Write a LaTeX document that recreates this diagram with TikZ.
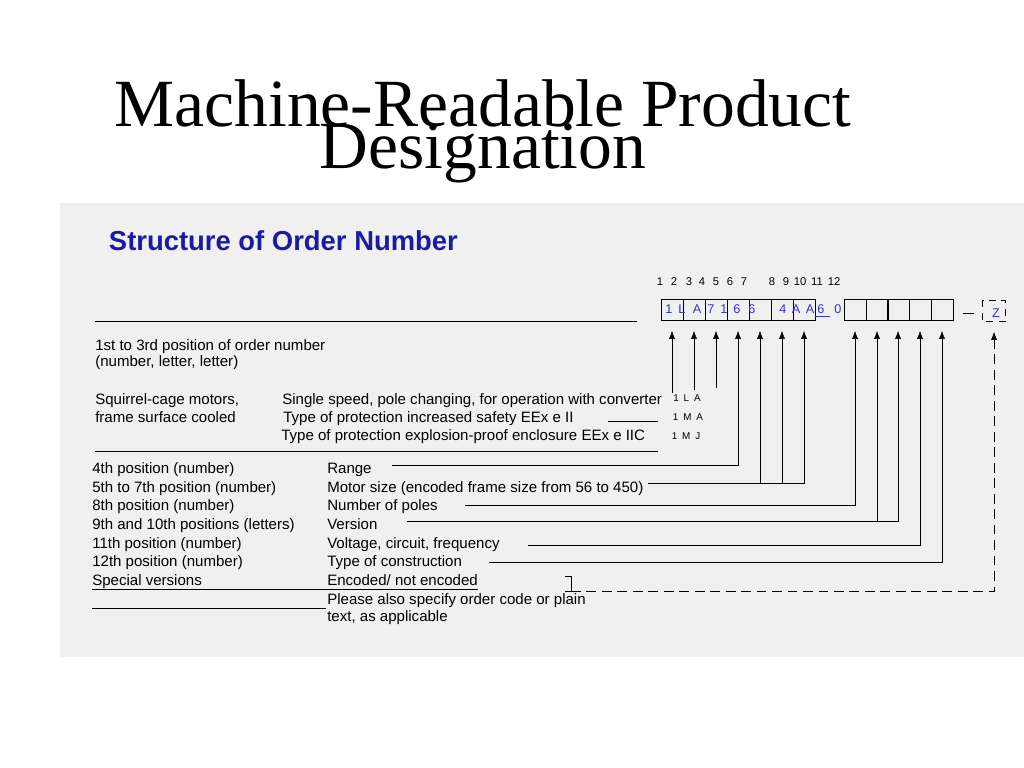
\documentclass[tikz,border=0pt]{standalone}
\usepackage{fontspec}
\setmainfont{Liberation Sans}
\newfontfamily\titlefont{Liberation Serif}
\usetikzlibrary{arrows.meta}
\definecolor{panelgrey}{HTML}{F0F0F0}
\definecolor{headblue}{HTML}{1A1AA6}
\definecolor{codeblue}{HTML}{3333CC}
\begin{document}
\begin{tikzpicture}[x=0.025cm,y=-0.025cm,
  txt/.style={anchor=base west, font=\fontsize{10.7}{12}\selectfont, inner sep=0pt},
  cell/.style={draw, semithick, minimum width=0.55cm, minimum height=0.52cm, inner sep=0pt},
  digit/.style={font=\fontsize{8}{9}\selectfont, inner sep=0pt},
  code/.style={font=\fontsize{9}{10}\selectfont, text=codeblue, inner sep=0pt},
  small/.style={font=\fontsize{7}{8}\selectfont, inner sep=0pt},
  arr/.style={-{Latex[length=2mm,width=1.5mm]}, shorten >=0.25cm}]
\useasboundingbox (0,0) rectangle (1024,768);
% background panel
\fill[panelgrey] (60,203) rectangle (1024,657);

% title
\node[font=\titlefont\fontsize{48}{52}\selectfont] (title1) at (483,103) {Machine-Readable Product};
\node[font=\titlefont\fontsize{48}{52}\selectfont] (title2) at (483,153) {Designation};
\node[anchor=west, font=\bfseries\fontsize{19.5}{23}\selectfont, text=headblue] (head) at (104,241) {Structure of Order Number};

% position numbers
\node[digit] (n1) at (660,282) {1};
\node[digit] (n2) at (674,282) {2};
\node[digit] (n3) at (689,282) {3};
\node[digit] (n4) at (702,282) {4};
\node[digit] (n5) at (716,282) {5};
\node[digit] (n6) at (730,282) {6};
\node[digit] (n7) at (744,282) {7};
\node[digit] (n8) at (772,282) {8};
\node[digit] (n9) at (786,282) {9};
\node[digit] (n10) at (800,282) {10};
\node[digit] (n11) at (817,282) {11};
\node[digit] (n12) at (834,282) {12};

% order number boxes
\node[cell] (b1) at (672,310) {};
\node[cell] (b2) at (694,310) {};
\node[cell] (b3) at (716,310) {};
\node[cell] (b4) at (738,310) {};
\node[cell] (b5) at (760,310) {};
\node[cell] (b6) at (782,310) {};
\node[cell] (b7) at (804,310) {};
\node[cell] (b8) at (855,310) {};
\node[cell] (b9) at (877,310) {};
\node[cell] (b10) at (898,310) {};
\node[cell] (b11) at (920,310) {};
\node[cell] (b12) at (942,310) {};
\node[cell, draw=none] (bz) at (994,311) {};
\draw[semithick, dashed, dash pattern=on 5pt off 4pt] (bz.north west) rectangle (bz.south east);
\draw[semithick] (963,313) -- (974,313);

% blue code
\node[code] (c1) at (669,309) {1};
\node[code] (c2) at (682,309) {L};
\node[code] (c3) at (697,309) {A};
\node[code] (c4) at (711,309) {7};
\node[code] (c5) at (724,309) {1};
\node[code] (c6) at (737,309) {6};
\node[code] (c7) at (752,309) {6};
\node[code] (c8) at (783,309) {4};
\node[code] (c9) at (796,309) {A};
\node[code] (c10) at (810,309) {A};
\node[code] (c11) at (821,309) {6};
\node[code] (c12) at (838,309) {0};
\node[code] (cz) at (996,313) {Z};
\draw[codeblue] (815,316) -- (830,316);

% left texts
\draw (95,321) -- (637,321);
\node[txt] (p13a) at (95,350) {1st to 3rd position of order number};
\node[txt] (p13b) at (95,366) {(number, letter, letter)};
\node[txt] (sq1) at (95,404) {Squirrel-cage motors,};
\node[txt] (sq2) at (95,422) {frame surface cooled};
\node[txt] (ty1) at (282,404) {Single speed, pole changing, for operation with converter};
\node[txt] (ty2) at (283,422) {Type of protection increased safety EEx e II};
\node[txt] (ty3) at (281,440) {Type of protection explosion-proof enclosure EEx e IIC};
\draw (608,421) -- (658,421);
\draw (95,451) -- (658,451);
\node[small] (k1) at (687,398) {1\,\,\,L\,\,\,A};
\node[small] (k2) at (688,417) {1\,\,\,M\,\,\,A};
\node[small] (k3) at (686,436) {1\,\,\,M\,\,\,J};

% position list
\node[txt] (l4) at (92,473) {4th position (number)};
\node[txt] (l5) at (92,492) {5th to 7th position (number)};
\node[txt] (l8) at (92,510) {8th position (number)};
\node[txt] (l9) at (92,529) {9th and 10th positions (letters)};
\node[txt] (l11) at (92,548) {11th position (number)};
\node[txt] (l12) at (92,566) {12th position (number)};
\node[txt] (lsp) at (92,585) {Special versions};
\node[txt] (r4) at (327,473) {Range};
\node[txt] (r5) at (327,492) {Motor size (encoded frame size from 56 to 450)};
\node[txt] (r8) at (327,510) {Number of poles};
\node[txt] (r9) at (327,529) {Version};
\node[txt] (r11) at (327,548) {Voltage, circuit, frequency};
\node[txt] (r12) at (327,566) {Type of construction};
\node[txt] (rsp) at (327,585) {Encoded/ not encoded};
\node[txt] (rpl1) at (327,604) {Please also specify order code or plain};
\node[txt] (rpl2) at (327,621) {text, as applicable};
\draw (92,589) -- (rsp.base east |- 0,589);
\draw (92,608) -- (326,608);

% connectors
\coordinate (s1) at (672,393);
\coordinate (s2) at (694,390);
\coordinate (s3) at (716,388);
\coordinate (rgS) at (392,465);
\coordinate (msS) at (648,483);
\coordinate (npS) at (465,505);
\coordinate (vsS) at (407,521);
\coordinate (vcS) at (528,545);
\coordinate (tcS) at (489,562);
\coordinate (enS) at (565,576);
\coordinate (enE) at (571,591);
\draw[arr] (s1) -- (b1.south);
\draw[arr] (s2) -- (b2.south);
\draw[arr] (s3) -- (b3.south);
\draw[arr] (rgS) -| (b4.south);
\draw[arr] (msS) -| (b7.south);
\draw[arr] (b5.south |- msS) -- (b5.south);
\draw[arr] (b6.south |- msS) -- (b6.south);
\draw[arr] (npS) -| (b8.south);
\draw[arr] (vsS) -| (b10.south);
\draw[arr] (b9.south |- vsS) -- (b9.south);
\draw[arr] (vcS) -| (b11.south);
\draw[arr] (tcS) -| (b12.south);
\draw (enS) -| (enE) -- ++(-6,0);
\draw[arr, dashed, dash pattern=on 7pt off 4pt] (enE) -| (bz.south);
\end{tikzpicture}
\end{document}
